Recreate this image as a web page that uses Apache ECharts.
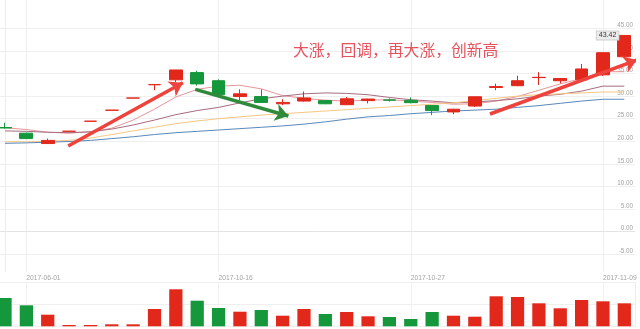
<!DOCTYPE html>
<html>
<head>
<meta charset="utf-8">
<style>
html,body{margin:0;padding:0;background:#fff;}
#chart{width:640px;height:329px;}
</style>
<script src="https://cdn.jsdelivr.net/npm/echarts@6/dist/echarts.min.js"></script>
</head>
<body>
<div id="chart"></div>
<script>
// ---------- data ----------
var dates = ['2017-05-31','2017-06-01','2017-06-02','2017-09-28','2017-09-29','2017-10-09','2017-10-10','2017-10-11','2017-10-12','2017-10-13',
  '2017-10-16','2017-10-17','2017-10-18','2017-10-19','2017-10-20','2017-10-23','2017-10-24','2017-10-25','2017-10-26','2017-10-27',
  '2017-10-30','2017-10-31','2017-11-01','2017-11-02','2017-11-03','2017-11-06','2017-11-07','2017-11-08','2017-11-09','2017-11-10'];
var openPrices  = [23.05,21.8,19.5,22.22,24.44,26.88,29.57,32.53,33.6,35.2, 33.4,29.9,29.9,28.3,28.9,29.0,28.1,29.0,29.15,29.05, 27.9,26.5,27.8,31.9,32.3,34.1,33.4,33.6,34.7,38.7];
var closePrices = [22.95,20.6,20.2,22.22,24.44,26.88,29.57,32.53,35.78,32.7, 30.3,30.5,28.6,28.6,29.6,28.3,29.4,29.35,29.1,28.55, 26.8,27.1,29.85,32.1,33.4,34.15,33.9,36.0,39.6,43.42];
var lowPrices   = [22.8,20.5,19.4,22.22,24.44,26.88,29.57,31.3,33.1,32.3, 30.2,29.1,28.5,28.0,28.8,28.2,28.0,28.4,28.8,28.4, 25.8,26.0,27.6,31.3,32.2,32.45,32.8,33.5,34.5,38.5];
var highPrices  = [24.1,21.9,20.6,22.22,24.44,26.88,29.57,32.53,35.78,35.6, 33.7,31.5,31.5,29.3,31.0,29.0,29.8,29.4,29.5,29.7, 27.9,27.2,29.9,32.75,34.5,35.3,33.95,37.1,39.6,43.5];
var volumes     = [28.3,21,11.6,1.3,1.3,2,2,17.3,37,25.6, 18.3,14.6,16.3,10.6,17.3,12.3,14.3,10,9.3,7.3, 14.3,10.6,9.6,30,29.3,23,18,26.3,25,23];
var ma5  = [23.0,22.6,22.0,21.8,22.1,22.9,24.7,27.1,29.8,31.5, 32.2,32.4,31.6,30.1,29.5,29.1,28.9,29.1,29.2,28.9, 28.6,28.2,28.3,28.9,29.9,31.3,32.7,33.9,35.4,35.4];
var ma10 = [22.3,22.2,22.0,21.9,22.1,22.7,23.6,24.7,25.9,26.8, 27.5,28.5,29.4,30.0,30.5,30.7,30.6,30.3,29.7,29.2, 28.9,28.5,28.7,29.0,29.4,30.0,30.4,31.1,32.2,32.2];
var ma20 = [19.9,19.9,20.0,20.2,20.7,21.5,22.3,23.1,23.9,24.5, 25.0,25.4,25.8,26.1,26.4,26.7,27.0,27.3,27.6,27.9, 28.2,28.5,29.0,29.5,30.0,30.3,30.5,30.7,30.9,30.9];
var ma30 = [19.55,19.65,19.8,19.95,20.2,20.6,21.0,21.5,21.9,22.2, 22.5,22.8,23.1,23.4,23.8,24.3,24.9,25.4,25.7,26.1, 26.4,26.7,26.9,27.1,27.5,27.9,28.4,28.9,29.3,29.3];
var yTicks = [-5,0,5,10,15,20,25,30,35,40,45];
var noteText = '大涨，回调，再大涨，创新高';
// annotation arrows: [categoryIndex, price]
var arrowUp1   = [[2.96,18.95],[8.33,32.96]];
var arrowDown  = [[8.91,31.5],[13.27,25.6]];
var arrowUp2   = [[22.71,26.04],[29.59,37.99]];

// ---------- styling ----------
var RED = '#e1281a', GREEN = '#15973b';
var labelEvery = function (i) { return (i - 1) % 9 === 0; };

var candleData = dates.map(function (d, i) {
  return [openPrices[i], closePrices[i], lowPrices[i], highPrices[i]];
});
var volData = volumes.map(function (v, i) {
  var up = closePrices[i] > openPrices[i] ||
    (closePrices[i] === openPrices[i] && (i === 0 || closePrices[i] >= closePrices[i - 1]));
  return { value: v, itemStyle: { color: up ? RED : GREEN } };
});
var last = dates.length - 1;

var chart = echarts.init(document.getElementById('chart'), null, { renderer: 'canvas' });
chart.setOption({
  animation: false,
  backgroundColor: '#ffffff',
  textStyle: { fontFamily: 'Liberation Sans, Arial, sans-serif' },
  title: {
    text: noteText, left: 293, top: 42, padding: 0,
    textStyle: { fontFamily: 'Noto Sans CJK SC', fontSize: 15.8, fontWeight: 'normal', color: '#e6525d' }
  },
  grid: [
    { left: -5.67, right: 5, top: 0, bottom: 57.3, outerBoundsMode: 'none', containLabel: false },
    { left: -5.67, right: 5, top: 282.3, bottom: 2.7, outerBoundsMode: 'none', containLabel: false }
  ],
  xAxis: [
    { type: 'category', gridIndex: 0, data: dates, boundaryGap: true,
      axisLine: { show: true, lineStyle: { color: '#e4e4e4' } },
      axisTick: { show: false },
      axisLabel: { interval: labelEvery, align: 'left', margin: 3, fontSize: 6.7, color: '#a3a3a3' },
      splitLine: { show: true, interval: labelEvery, alignWithLabel: true, lineStyle: { color: '#efefef' } } },
    { type: 'category', gridIndex: 1, data: dates, boundaryGap: true,
      axisLine: { show: false }, axisTick: { show: false }, axisLabel: { show: false },
      splitLine: { show: true, interval: labelEvery, alignWithLabel: true, lineStyle: { color: '#f2f2f2' } } },
    { type: 'value', gridIndex: 0, min: -0.5, max: dates.length - 0.5, show: false }
  ],
  yAxis: [
    { type: 'value', gridIndex: 0, position: 'right', min: -8.85, max: 51.26, scale: true,
      axisLine: { show: true, lineStyle: { color: '#ececec' } },
      axisTick: { show: false, customValues: yTicks },
      axisLabel: { inside: true, margin: 2, verticalAlign: 'bottom', fontSize: 6.3, color: '#a3a3a3',
        customValues: yTicks, formatter: function (v) { return v.toFixed(2); } },
      splitLine: { show: true, lineStyle: { color: '#efefef' } } },
    { type: 'value', gridIndex: 1, position: 'right', min: 0, max: 44, interval: 22,
      axisLine: { show: true, lineStyle: { color: '#ececec' } },
      axisTick: { show: false }, axisLabel: { show: false },
      splitLine: { show: true, lineStyle: { color: '#efefef' } } }
  ],
  series: [
    { name: 'K', type: 'candlestick', xAxisIndex: 0, yAxisIndex: 0, data: candleData, barWidth: '62%', clip: false,
      itemStyle: { color: RED, color0: GREEN, borderColor: RED, borderColor0: GREEN, borderWidth: 1 },
      markPoint: {
        symbol: 'circle', symbolSize: 0, silent: true,
        data: [{ coord: [last, closePrices[last]], value: closePrices[last] }],
        label: { show: true, position: 'left', distance: 6, formatter: function (p) { return p.value.toFixed(2); },
          fontSize: 7, color: '#333', backgroundColor: '#ececec', borderColor: '#d0d0d0', borderWidth: 1, padding: [1, 2, 0, 2] }
      },
      z: 3 },
    { name: 'MA5', type: 'line', xAxisIndex: 0, yAxisIndex: 0, data: ma5, showSymbol: false, lineStyle: { width: 1, color: '#e8959b' }, z: 2 },
    { name: 'MA10', type: 'line', xAxisIndex: 0, yAxisIndex: 0, data: ma10, showSymbol: false, lineStyle: { width: 1, color: '#a86c80' }, z: 2 },
    { name: 'MA20', type: 'line', xAxisIndex: 0, yAxisIndex: 0, data: ma20, showSymbol: false, lineStyle: { width: 1, color: '#f6c784' }, z: 2 },
    { name: 'MA30', type: 'line', xAxisIndex: 0, yAxisIndex: 0, data: ma30, showSymbol: false, lineStyle: { width: 1, color: '#5a88ba' }, z: 2 },
    { name: 'VOL', type: 'bar', xAxisIndex: 1, yAxisIndex: 1, data: volData, barWidth: '62%' },
    { name: 'arrows', type: 'lines', coordinateSystem: 'cartesian2d', xAxisIndex: 2, yAxisIndex: 0,
      symbol: ['none', 'arrow'], symbolSize: 13, silent: true, z: 5,
      data: [
        { coords: arrowUp1, lineStyle: { color: '#ee433d', width: 3.5, opacity: 1 } },
        { coords: arrowDown, lineStyle: { color: '#2f8a3b', width: 3.5, opacity: 1 } },
        { coords: arrowUp2, lineStyle: { color: '#ee433d', width: 3.5, opacity: 1 } }
      ] }
  ]
});
</script>
</body>
</html>
